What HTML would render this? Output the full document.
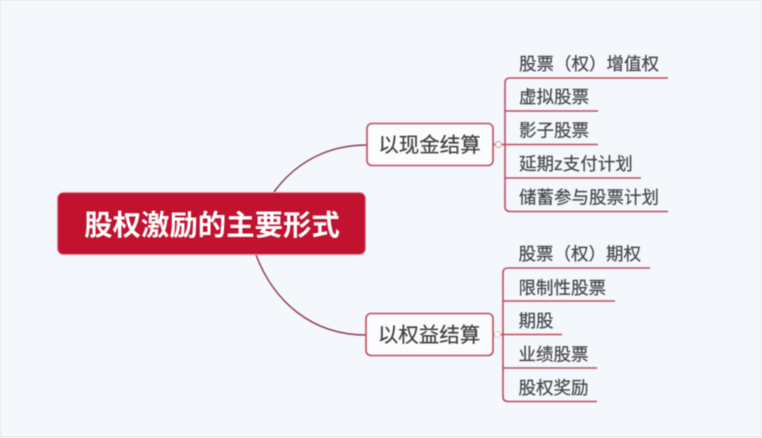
<!DOCTYPE html>
<html lang="zh">
<head>
<meta charset="utf-8">
<style>
html,body{margin:0;padding:0;width:762px;height:438px;overflow:hidden;background:#f4f8fc}
svg{display:block}
text{font-family:"Liberation Sans","Noto Sans CJK SC",sans-serif}
.leaf{font-size:17.5px;fill:#454547;stroke:#454547;stroke-width:.2px}
.node{font-size:20.5px;fill:#404042;stroke:#404042;stroke-width:.2px}
.ln{stroke:#c14a60;stroke-width:1.6;fill:none}
.soft{filter:blur(.55px)}
</style>
</head>
<body>
<svg width="762" height="438" viewBox="0 0 762 438" xmlns="http://www.w3.org/2000/svg">
<rect x="0" y="0" width="762" height="438" fill="#f4f8fc"/>
<rect x="0.5" y="0.5" width="760" height="436" fill="none" stroke="#e9edf0" stroke-width="1"/>
<g class="soft">
<!-- root connectors -->
<path d="M274 192 C296 162 328 145 367 145" fill="none" stroke="#8f3f54" stroke-width="1.5"/>
<path d="M256 255 C274 302 312 335 366 335" fill="none" stroke="#8f3f54" stroke-width="1.5"/>

<!-- root -->
<rect x="57.500" y="192.500" width="308" height="62" rx="6" fill="#c1122f" stroke="#e8909f" stroke-width="1"/>
<text x="212" y="235" text-anchor="middle" font-size="28.400" font-weight="700" fill="#ffffff">股权激励的主要形式</text>

<!-- top node -->
<rect x="367" y="123.500" width="126" height="42" rx="5" fill="#fbfcfd" stroke="#c14a60" stroke-width="1.600"/>
<text x="429.500" y="152" text-anchor="middle" class="node">以现金结算</text>
<path class="ln" d="M493 144.500H505"/>
<circle cx="498.500" cy="144.500" r="3" fill="#f8fafc" stroke="#dca0ac" stroke-width="1"/>
<path class="ln" d="M668 78H510Q505 78 505 83V206.500Q505 211.500 510 211.500H668"/>
<path class="ln" d="M505 111H598M505 144.500H598M505 178H641"/>
<text x="519" y="70" class="leaf">股票（权）增值权</text>
<text x="519" y="103" class="leaf">虚拟股票</text>
<text x="519" y="136.500" class="leaf">影子股票</text>
<text x="519" y="170" class="leaf">延期z支付计划</text>
<text x="519" y="203.500" class="leaf">储蓄参与股票计划</text>

<!-- bottom node -->
<rect x="366" y="313.500" width="127" height="42" rx="5" fill="#fbfcfd" stroke="#c14a60" stroke-width="1.600"/>
<text x="429" y="342" text-anchor="middle" class="node">以权益结算</text>
<path class="ln" d="M493 334.500H503"/>
<circle cx="497.500" cy="334.500" r="3" fill="#f8fafc" stroke="#dca0ac" stroke-width="1" stroke-dasharray="1.500 1.500"/>
<path class="ln" d="M650 268H508Q503 268 503 273V396.500Q503 401.500 508 401.500H597"/>
<path class="ln" d="M503 301H615M503 334.500H562M503 368H597"/>
<text x="518.500" y="260" class="leaf">股票（权）期权</text>
<text x="518.500" y="294" class="leaf">限制性股票</text>
<text x="518.500" y="327" class="leaf">期股</text>
<text x="518.500" y="360.500" class="leaf">业绩股票</text>
<text x="518.500" y="394" class="leaf">股权奖励</text>
</g>
</svg>
</body>
</html>
